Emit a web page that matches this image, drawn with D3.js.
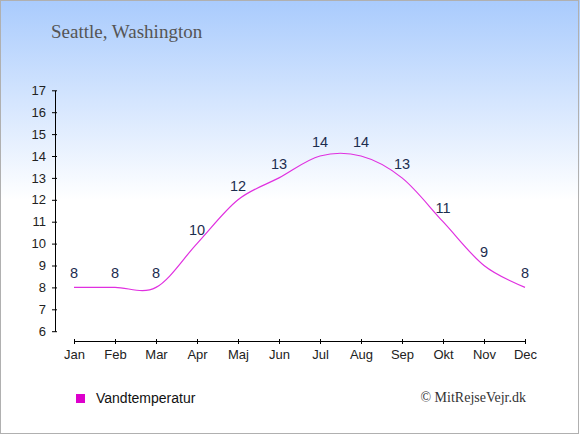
<!DOCTYPE html>
<html>
<head>
<meta charset="utf-8">
<script src="https://cdn.jsdelivr.net/npm/d3@7"></script>
<style>
  body { margin: 0; background: #fff; }
  svg { display: block; }
</style>
</head>
<body>
<div id="chart"></div>
<script>
// Chart data
const months = ['Jan', 'Feb', 'Mar', 'Apr', 'Maj', 'Jun', 'Jul', 'Aug', 'Sep', 'Okt', 'Nov', 'Dec'];
const waterTemp = [8, 8, 8, 10, 12, 13, 14, 14, 13, 11, 9, 8];
const yTicks = [6, 7, 8, 9, 10, 11, 12, 13, 14, 15, 16, 17];
const titleText = 'Seattle, Washington';
const seriesName = 'Vandtemperatur';
const creditText = '© MitRejseVejr.dk';

const W = 580, H = 435;
const sans = '"Liberation Sans", Arial, sans-serif';
const serif = '"Liberation Serif", "Times New Roman", serif';

const svg = d3.select('#chart')
    .append('svg')
    .attr('width', W)
    .attr('height', H);

// Background gradient
const defs = svg.append('defs');
const grad = defs.append('linearGradient')
    .attr('id', 'bg-gradient')
    .attr('x1', 0).attr('y1', 0)
    .attr('x2', 0).attr('y2', 1);
grad.append('stop').attr('offset', '0%').attr('stop-color', '#a9cbfd');
grad.append('stop').attr('offset', '46%').attr('stop-color', '#ffffff');
grad.append('stop').attr('offset', '100%').attr('stop-color', '#ffffff');

svg.append('rect')
    .attr('x', 0).attr('y', 0)
    .attr('width', W).attr('height', H)
    .style('fill', 'url(#bg-gradient)');

svg.append('rect')
    .attr('x', 0.5).attr('y', 0.5)
    .attr('width', W - 2).attr('height', H - 2)
    .style('fill', 'none')
    .style('stroke', '#b0b0b0')
    .style('stroke-width', 1);

// Scales
const x = d3.scalePoint()
    .domain(months)
    .range([74, 525]);

const y = d3.scaleLinear()
    .domain([6, 17])
    .range([331.2, 90.3]);

// Y axis
const yAxis = svg.append('g')
    .attr('transform', 'translate(55,0)')
    .call(d3.axisLeft(y).tickValues(yTicks).tickSizeInner(3).tickSizeOuter(0).tickPadding(6));
yAxis.select('.domain').style('stroke', '#000');
yAxis.selectAll('.tick line').attr('x1', 2).style('stroke', '#000');
yAxis.selectAll('.tick text')
    .style('font-family', sans)
    .style('font-size', '13px')
    .style('fill', '#222');

// X axis
const xAxis = svg.append('g')
    .attr('transform', 'translate(0,341)')
    .call(d3.axisBottom(x).tickSizeInner(3).tickSizeOuter(0).tickPadding(6));
xAxis.select('.domain').style('stroke', '#000');
xAxis.selectAll('.tick line').attr('y1', -2).style('stroke', '#000');
xAxis.selectAll('.tick text')
    .style('font-family', sans)
    .style('font-size', '13px')
    .style('fill', '#222');

// Line
const line = d3.line()
    .x((d, i) => x(months[i]))
    .y(d => y(d))
    .curve(d3.curveCardinal.tension(0));

svg.append('path')
    .datum(waterTemp)
    .attr('d', line)
    .style('fill', 'none')
    .style('stroke', '#e030e0')
    .style('stroke-width', 1.2);

// Value labels
svg.selectAll('.value-label')
    .data(waterTemp)
    .enter().append('text')
    .attr('class', 'value-label')
    .attr('x', (d, i) => x(months[i]))
    .attr('y', d => y(d) - 9)
    .attr('text-anchor', 'middle')
    .style('font-family', sans)
    .style('font-size', '14.5px')
    .style('fill', '#1c2d4f')
    .text(d => d);

// Title
svg.append('text')
    .attr('x', 51)
    .attr('y', 38)
    .style('font-family', serif)
    .style('font-size', '19px')
    .style('fill', '#555')
    .text(titleText);

// Legend
svg.append('rect')
    .attr('x', 76).attr('y', 394)
    .attr('width', 9).attr('height', 9)
    .style('fill', '#dd00cc');

svg.append('text')
    .attr('x', 96)
    .attr('y', 403)
    .style('font-family', sans)
    .style('font-size', '14px')
    .style('fill', '#111')
    .text(seriesName);

// Credit
svg.append('text')
    .attr('x', 526)
    .attr('y', 402)
    .attr('text-anchor', 'end')
    .style('font-family', serif)
    .style('font-size', '14px')
    .style('fill', '#333')
    .text(creditText);
</script>
</body>
</html>
